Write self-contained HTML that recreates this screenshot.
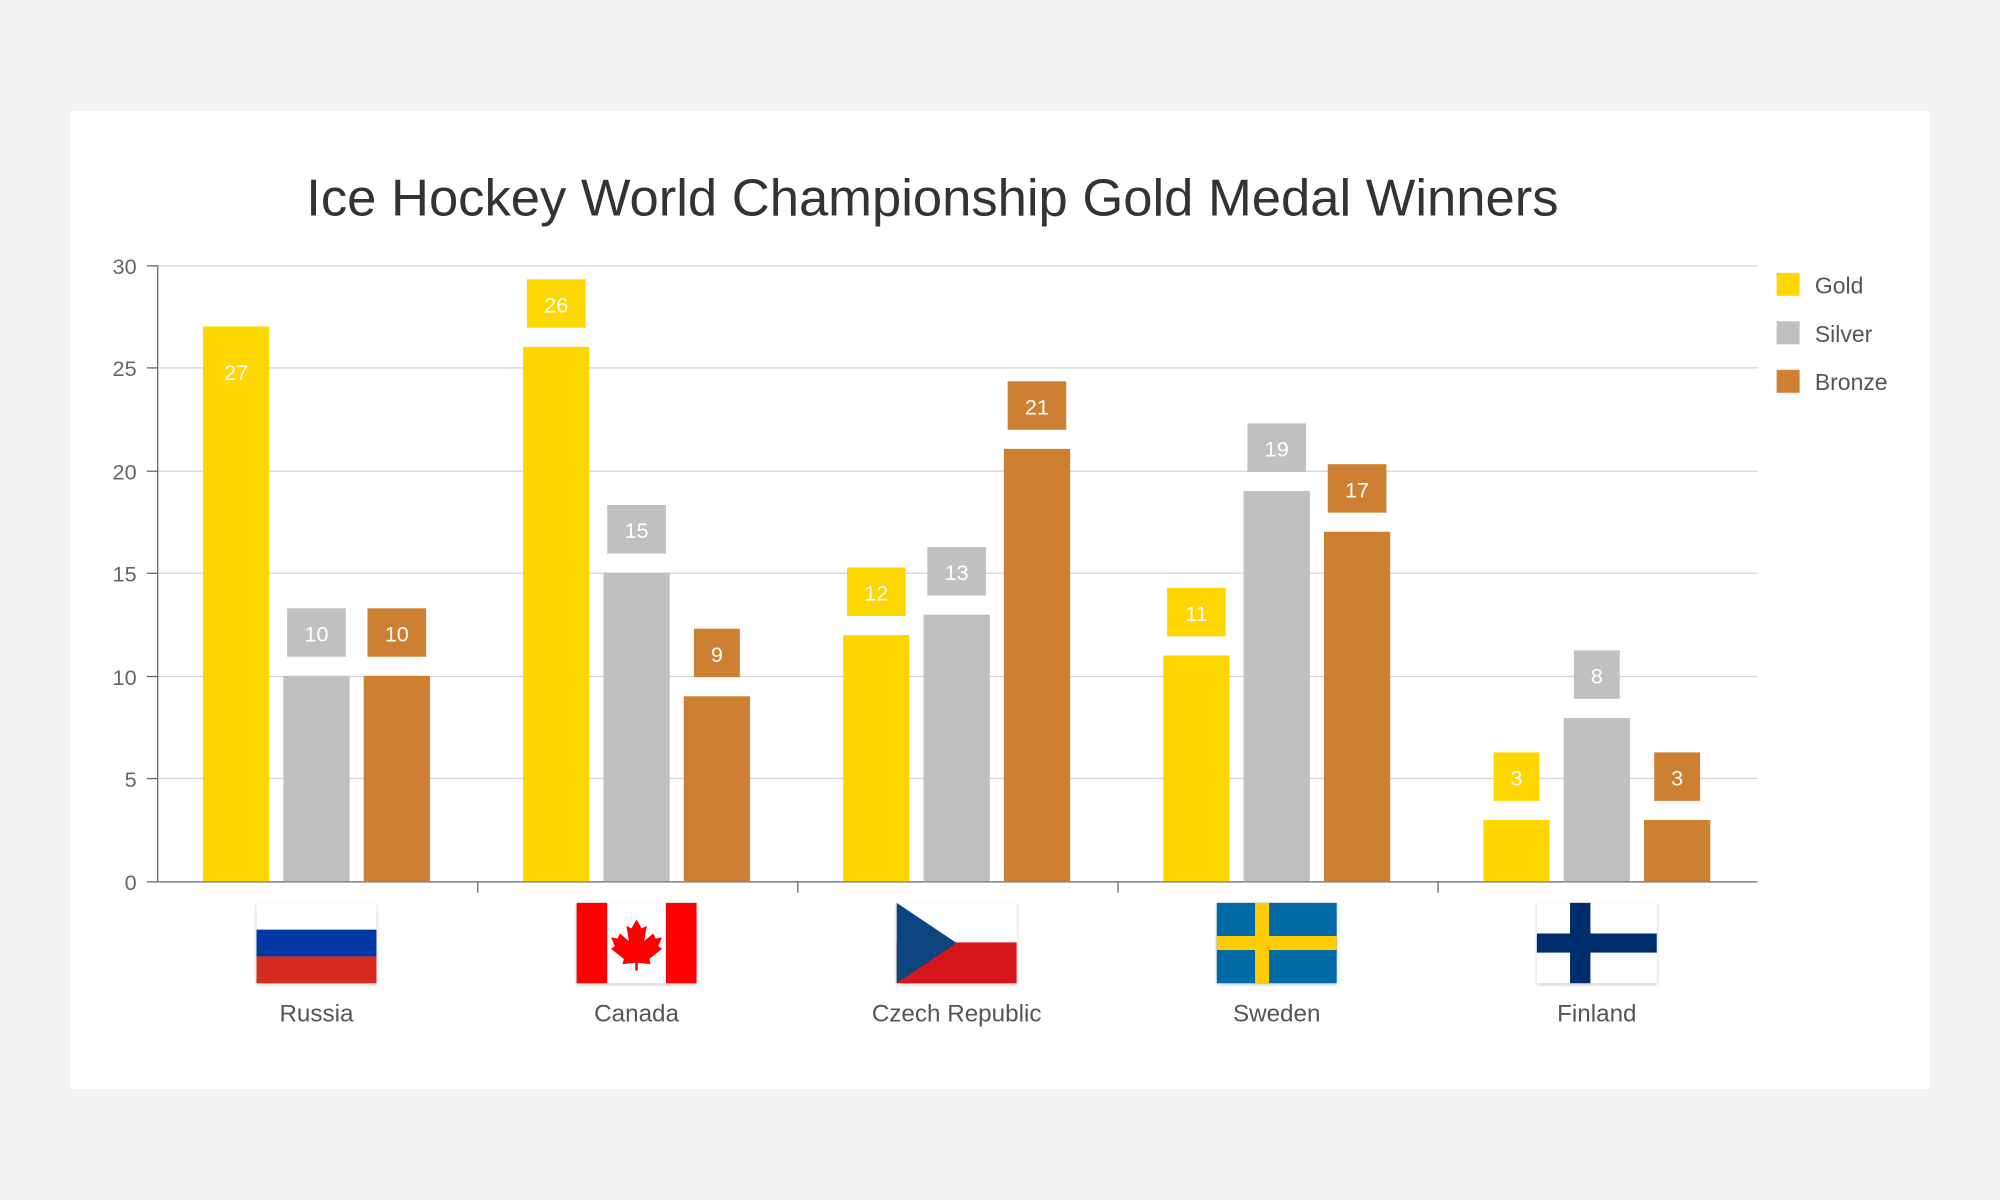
<!DOCTYPE html>
<html><head><meta charset="utf-8"><style>
html,body{margin:0;padding:0;background:#f4f4f4;}
svg{display:block;}
text{font-family:"Liberation Sans",sans-serif;}
</style></head><body>
<svg width="2000" height="1200" viewBox="0 0 1568 941" xmlns="http://www.w3.org/2000/svg">
<rect x="0" y="0" width="1568" height="941" fill="#f4f4f4"/>
<rect x="55" y="87" width="1458" height="767" fill="#fff"/>
<text x="240" y="169" font-size="41" fill="#333" textLength="982" lengthAdjust="spacingAndGlyphs">Ice Hockey World Championship Gold Medal Winners</text>
<g stroke="#d4d4d4" stroke-width="1">
<line x1="123" y1="208.5" x2="1378" y2="208.5"/>
<line x1="123" y1="288.5" x2="1378" y2="288.5"/>
<line x1="123" y1="369.5" x2="1378" y2="369.5"/>
<line x1="123" y1="449.5" x2="1378" y2="449.5"/>
<line x1="123" y1="530.5" x2="1378" y2="530.5"/>
<line x1="123" y1="610.5" x2="1378" y2="610.5"/>
</g>
<g stroke="#666" stroke-width="1">
<line x1="123.5" y1="208" x2="123.5" y2="691"/>
<line x1="115" y1="208.5" x2="123" y2="208.5"/>
<line x1="115" y1="288.5" x2="123" y2="288.5"/>
<line x1="115" y1="369.5" x2="123" y2="369.5"/>
<line x1="115" y1="449.5" x2="123" y2="449.5"/>
<line x1="115" y1="530.5" x2="123" y2="530.5"/>
<line x1="115" y1="610.5" x2="123" y2="610.5"/>
<line x1="115" y1="691.5" x2="1378" y2="691.5"/>
<line x1="374.5" y1="691" x2="374.5" y2="700"/>
<line x1="625.5" y1="691" x2="625.5" y2="700"/>
<line x1="876.5" y1="691" x2="876.5" y2="700"/>
<line x1="1127.5" y1="691" x2="1127.5" y2="700"/>
</g>
<g font-size="17" fill="#666" text-anchor="end">
<text x="107" y="215">30</text><text x="107" y="295">25</text><text x="107" y="376">20</text>
<text x="107" y="456">15</text><text x="107" y="537">10</text><text x="107" y="617">5</text><text x="107" y="698">0</text>
</g>
<g>
<rect x="159" y="256" width="52" height="435" fill="#FFD700"/>
<rect x="222" y="530" width="52" height="161" fill="#C0C0C0"/>
<rect x="285" y="530" width="52" height="161" fill="#CD7F32"/>
<rect x="410" y="272" width="52" height="419" fill="#FFD700"/>
<rect x="473" y="449" width="52" height="242" fill="#C0C0C0"/>
<rect x="536" y="546" width="52" height="145" fill="#CD7F32"/>
<rect x="661" y="498" width="52" height="193" fill="#FFD700"/>
<rect x="724" y="482" width="52" height="209" fill="#C0C0C0"/>
<rect x="787" y="352" width="52" height="339" fill="#CD7F32"/>
<rect x="912" y="514" width="52" height="177" fill="#FFD700"/>
<rect x="975" y="385" width="52" height="306" fill="#C0C0C0"/>
<rect x="1038" y="417" width="52" height="274" fill="#CD7F32"/>
<rect x="1163" y="643" width="52" height="48" fill="#FFD700"/>
<rect x="1226" y="563" width="52" height="128" fill="#C0C0C0"/>
<rect x="1289" y="643" width="52" height="48" fill="#CD7F32"/>
</g>
<g font-size="17" fill="#fff" text-anchor="middle">
<text x="185" y="298">27</text>
<rect x="225" y="477" width="46" height="38" fill="#C0C0C0"/><text x="248" y="503">10</text>
<rect x="288" y="477" width="46" height="38" fill="#CD7F32"/><text x="311" y="503">10</text>
<rect x="413" y="219" width="46" height="38" fill="#FFD700"/><text x="436" y="245">26</text>
<rect x="476" y="396" width="46" height="38" fill="#C0C0C0"/><text x="499" y="422">15</text>
<rect x="544" y="493" width="36" height="38" fill="#CD7F32"/><text x="562" y="519">9</text>
<rect x="664" y="445" width="46" height="38" fill="#FFD700"/><text x="687" y="471">12</text>
<rect x="727" y="429" width="46" height="38" fill="#C0C0C0"/><text x="750" y="455">13</text>
<rect x="790" y="299" width="46" height="38" fill="#CD7F32"/><text x="813" y="325">21</text>
<rect x="915" y="461" width="46" height="38" fill="#FFD700"/><text x="938" y="487">11</text>
<rect x="978" y="332" width="46" height="38" fill="#C0C0C0"/><text x="1001" y="358">19</text>
<rect x="1041" y="364" width="46" height="38" fill="#CD7F32"/><text x="1064" y="390">17</text>
<rect x="1171" y="590" width="36" height="38" fill="#FFD700"/><text x="1189" y="616">3</text>
<rect x="1234" y="510" width="36" height="38" fill="#C0C0C0"/><text x="1252" y="536">8</text>
<rect x="1297" y="590" width="36" height="38" fill="#CD7F32"/><text x="1315" y="616">3</text>
</g>
<defs><filter id="sh" x="-10%" y="-10%" width="120%" height="130%"><feDropShadow dx="0" dy="1" stdDeviation="1.2" flood-color="#000" flood-opacity="0.25"/></filter></defs>
<g filter="url(#sh)">
<g transform="translate(201,708)">
<rect width="94" height="21" fill="#fff"/><rect y="21" width="94" height="21" fill="#0039A6"/><rect y="42" width="94" height="21" fill="#D52B1E"/>
</g>
<g transform="translate(452,708)">
<rect width="94" height="63" fill="#fff"/><rect width="24" height="63" fill="#FF0000"/><rect x="70" width="24" height="63" fill="#FF0000"/>
<path d="M47 13 L51 20 L55 18 L53 30 L60 24 L62 28 L67 27 L64 34 L67 36 L57 44 L58 48 L48 47 L48 53 L46 53 L46 47 L36 48 L37 44 L27 36 L30 34 L27 27 L32 28 L34 24 L41 30 L39 18 L43 20 Z" fill="#FF0000"/>
</g>
<g transform="translate(703,708)">
<rect width="94" height="31" fill="#fff"/><rect y="31" width="94" height="32" fill="#D7141A"/><path d="M0 0 L47 31.5 L0 63 Z" fill="#11457E"/>
</g>
<g transform="translate(954,708)">
<rect width="94" height="63" fill="#006AA7"/><rect x="30" width="11" height="63" fill="#FECC00"/><rect y="26" width="94" height="11" fill="#FECC00"/>
</g>
<g transform="translate(1205,708)">
<rect width="94" height="63" fill="#fff"/><rect x="26" width="16" height="63" fill="#002F6C"/><rect y="24" width="94" height="15" fill="#002F6C"/>
</g>
</g>
<g font-size="19" fill="#555" text-anchor="middle">
<text x="248" y="801">Russia</text><text x="499" y="801">Canada</text><text x="750" y="801">Czech Republic</text>
<text x="1001" y="801">Sweden</text><text x="1252" y="801">Finland</text>
</g>
<rect x="1393" y="214" width="18" height="18" fill="#FFD700"/>
<rect x="1393" y="252" width="18" height="18" fill="#C0C0C0"/>
<rect x="1393" y="290" width="18" height="18" fill="#CD7F32"/>
<g font-size="18" fill="#555">
<text x="1423" y="230">Gold</text><text x="1423" y="268">Silver</text><text x="1423" y="306">Bronze</text>
</g>
</svg>
</body></html>
